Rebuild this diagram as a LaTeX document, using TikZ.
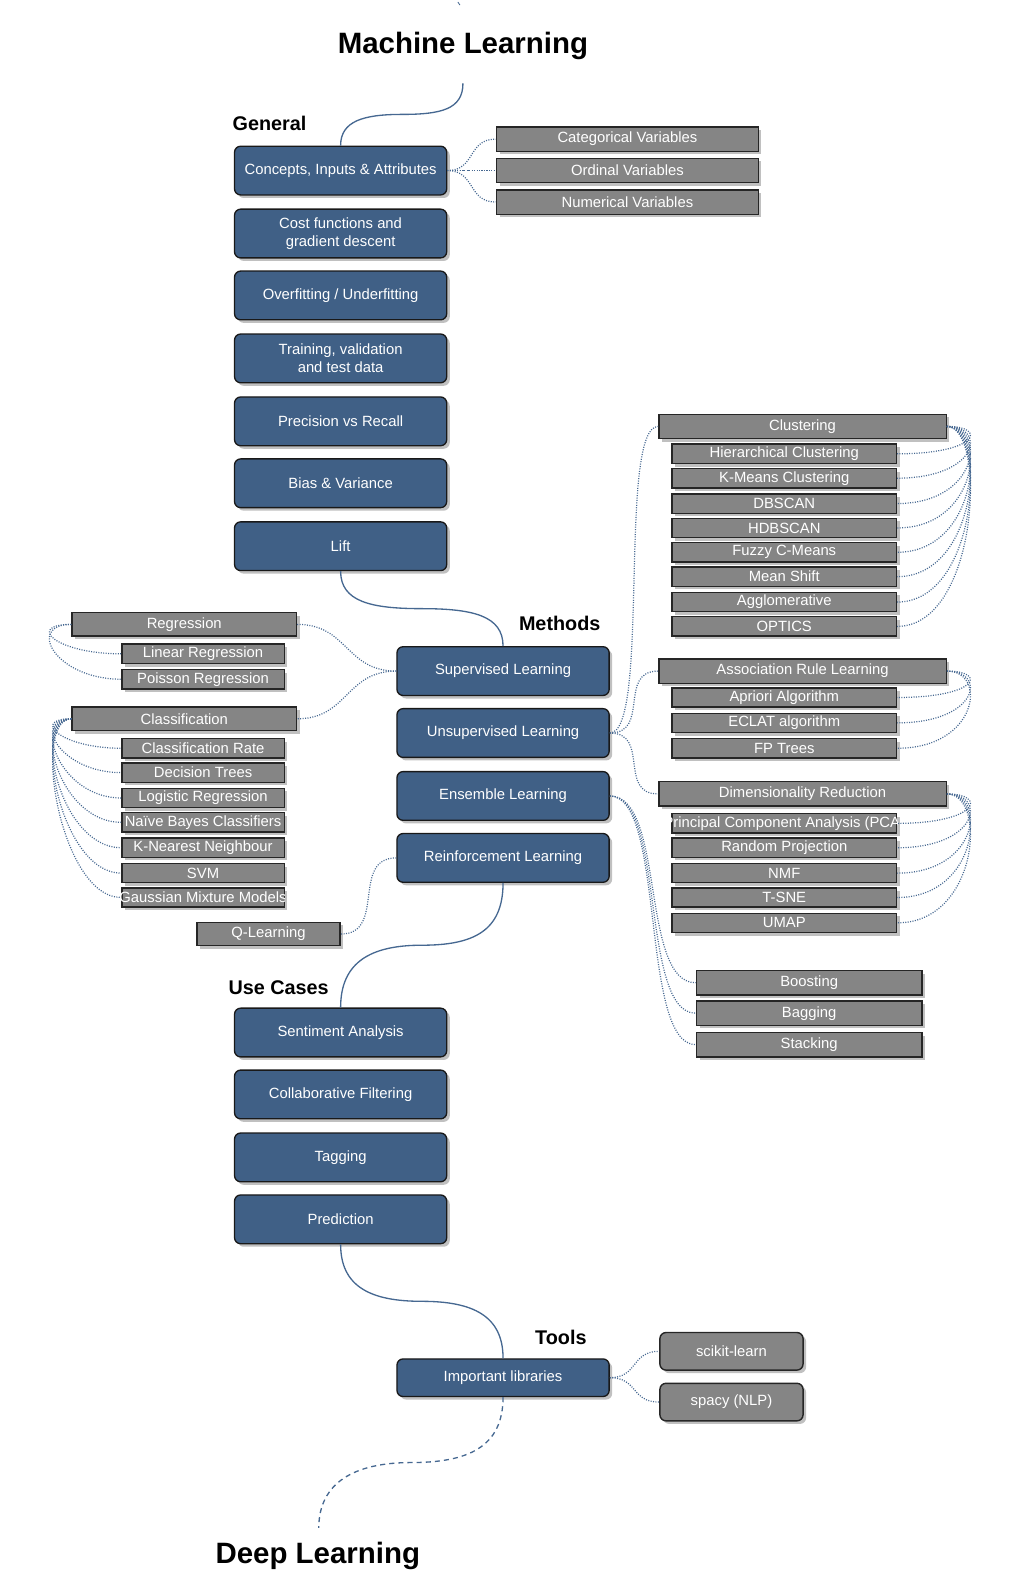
\documentclass[tikz,border=0pt]{standalone}
\usepackage{fontspec}
\setmainfont{Liberation Sans}
\usetikzlibrary{shadows,calc}
\definecolor{mlblue}{RGB}{64,96,134}
\definecolor{mlgray}{RGB}{133,133,133}
\definecolor{mlline}{RGB}{70,104,145}
\definecolor{mlshadow}{RGB}{192,192,192}
\newcommand{\bxf}{\fontsize{14.6}{18}\selectfont}
\newcommand{\hdf}{\fontsize{19.5}{22}\selectfont\bfseries}
\newcommand{\ttf}{\fontsize{29}{32}\selectfont\bfseries}
\tikzset{
  shad/.style={drop shadow={shadow xshift=3pt,shadow yshift=-3pt,fill=mlshadow,opacity=1}},
  bluebox/.style={shad,draw=black!90,line width=1.3pt,fill=mlblue,rounded corners=6pt,
    minimum width=209pt,minimum height=48pt,inner sep=0pt,text=white,font=\bxf,align=center},
  graybox/.style={shad,draw=black!85,line width=1.4pt,fill=mlgray,minimum height=24pt,
    inner sep=0pt,text=white,font=\bxf},
  headbox/.style={graybox,minimum width=283pt},
  varbox/.style={graybox,minimum width=258pt},
  subbox/.style={graybox,minimum width=221pt,minimum height=19pt},
  lhead/.style={graybox,minimum width=221pt,minimum height=23pt},
  lsub/.style={graybox,minimum width=160pt,minimum height=19pt},
  ensbox/.style={graybox,minimum width=222pt},
  libbox/.style={graybox,rounded corners=6pt,minimum width=141pt,minimum height=37pt},
  solidlink/.style={draw=mlline,line width=1.3pt},
  dotlink/.style={draw=mlline,line width=1.2pt,dash pattern=on 1pt off 1.4pt},
  dashlink/.style={draw=mlline,line width=1.3pt,dash pattern=on 5pt off 4pt},
  heading/.style={font=\hdf,anchor=west,inner sep=0pt},
  bigtitle/.style={font=\ttf,inner sep=0pt},
  cliptext/.style={text=white,font=\bxf,inner sep=0pt},
}
\begin{document}
\begin{tikzpicture}[x=1pt,y=-1pt]
\useasboundingbox (0,0) rectangle (1019.5,1567.1);

% titles and headings
\node[bigtitle] (ml) at (456,45) {Machine Learning};
\node[bigtitle] (dl) at (313,1533) {Deep Learning};
\node[heading] (hgen) at (229,122) {General};
\node[heading] (hmeth) at (511,614) {Methods};
\node[heading] (huse) at (225,973) {Use Cases};
\node[heading] (htools) at (527,1317) {Tools};
\coordinate (mltop) at (456,82);
\coordinate (dltop) at (314,1505);
\draw[mlline,line width=0.8pt] (451,2) -- (453,5);

% General
\node[bluebox] (concepts) at (335.5,168) {Concepts, Inputs \& Attributes};
\node[bluebox] (cost) at (335.5,230) {Cost functions and\\gradient descent};
\node[bluebox] (overfit) at (335.5,291) {Overfitting / Underfitting};
\node[bluebox] (training) at (335.5,353) {Training, validation\\and test data};
\node[bluebox] (precision) at (335.5,415) {Precision vs Recall};
\node[bluebox] (bias) at (335.5,476) {Bias \& Variance};
\node[bluebox] (lift) at (335.5,538) {Lift};

\node[varbox] (cat) at (618,137) {Categorical Variables};
\node[varbox] (ord) at (618,168) {Ordinal Variables};
\node[varbox] (num) at (618,199) {Numerical Variables};

% Methods
\node[bluebox] (sup) at (495.5,661) {Supervised Learning};
\node[bluebox] (unsup) at (495.5,722) {Unsupervised Learning};
\node[bluebox] (ens) at (495.5,784) {Ensemble Learning};
\node[bluebox] (reinf) at (495.5,845) {Reinforcement Learning};

% Supervised children
\node[lhead] (reg) at (181.5,615) {Regression};
\node[lsub] (linreg) at (200,644) {Linear Regression};
\node[lsub] (poisson) at (200,669) {Poisson Regression};
\node[lhead] (cls) at (181.5,708) {Classification};
\node[lsub] (clsrate) at (200,737) {Classification Rate};
\node[lsub] (dtree) at (200,761) {Decision Trees};
\node[lsub] (logreg) at (200,786) {Logistic Regression};
\node[lsub] (nbayes) at (200,810) {Naïve Bayes Classifiers};
\node[lsub] (knn) at (200,835) {K-Nearest Neighbour};
\node[lsub] (svm) at (200,860) {SVM};
\node[lsub] (gmm) at (200,884) {};
\begin{scope}
  \clip (gmm.south west) rectangle (gmm.north east);
  \node[cliptext] at (gmm.center) {Gaussian Mixture Models};
\end{scope}
\node[graybox,minimum width=141pt,minimum height=23pt] (qlearn) at (264.5,920) {Q-Learning};

% Unsupervised children
\node[headbox] (clust) at (790.5,420) {Clustering};
\node[subbox] (hier) at (772.5,447) {Hierarchical Clustering};
\node[subbox] (kmeans) at (772.5,471) {K-Means Clustering};
\node[subbox] (dbscan) at (772.5,496) {DBSCAN};
\node[subbox] (hdbscan) at (772.5,520) {HDBSCAN};
\node[subbox] (fuzzy) at (772.5,544) {Fuzzy C-Means};
\node[subbox] (mshift) at (772.5,568) {Mean Shift};
\node[subbox] (agglo) at (772.5,593) {Agglomerative};
\node[subbox] (optics) at (772.5,617) {OPTICS};

\node[headbox] (assoc) at (790.5,661) {Association Rule Learning};
\node[subbox] (apriori) at (772.5,687) {Apriori Algorithm};
\node[subbox] (eclat) at (772.5,712) {ECLAT algorithm};
\node[subbox] (fptrees) at (772.5,737) {FP Trees};

\node[headbox] (dimred) at (790.5,782) {Dimensionality Reduction};
\node[subbox] (pca) at (772.5,811) {};
\begin{scope}
  \clip (pca.south west) rectangle (pca.north east);
  \node[cliptext] at (pca.center) {Principal Component Analysis (PCA)};
\end{scope}
\node[subbox] (randproj) at (772.5,835) {Random Projection};
\node[subbox] (nmf) at (772.5,860) {NMF};
\node[subbox] (tsne) at (772.5,884) {T-SNE};
\node[subbox] (umap) at (772.5,909) {UMAP};

% Ensemble children
\node[ensbox] (boost) at (797,968) {Boosting};
\node[ensbox] (bag) at (797,998) {Bagging};
\node[ensbox] (stack) at (797,1029) {Stacking};

% Use cases
\node[bluebox] (senti) at (335.5,1017) {Sentiment Analysis};
\node[bluebox] (collab) at (335.5,1078) {Collaborative Filtering};
\node[bluebox] (tagging) at (335.5,1140) {Tagging};
\node[bluebox] (predict) at (335.5,1201) {Prediction};

% Tools
\node[bluebox,minimum height=37pt] (libs) at (495.5,1357) {Important libraries};
\node[libbox] (sklearn) at (720.5,1331) {scikit-learn};
\node[libbox] (spacy) at (720.5,1381) {spacy (NLP)};

% main spine (S-curves with a flat middle)
\coordinate (m0) at ($(mltop)!0.5!(concepts.north)$);
\coordinate (m1) at ($(lift.south)!0.5!(sup.north)$);
\coordinate (m2) at ($(reinf.south)!0.5!(senti.north)$);
\coordinate (m3) at ($(predict.south)!0.5!(libs.north)$);
\coordinate (m4) at ($(libs.south)!0.5!(dltop)$);
\draw[solidlink] (mltop) .. controls +(0,26) and +(38,0) .. (m0)
  .. controls +(-38,0) and +(0,-24) .. (concepts.north);
\draw[solidlink] (lift.south) .. controls +(0,30) and +(-50,0) .. (m1)
  .. controls +(50,0) and +(0,-30) .. (sup.north);
\draw[solidlink] (reinf.south) .. controls +(0,48) and +(50,0) .. (m2)
  .. controls +(-50,0) and +(0,-45) .. (senti.north);
\draw[solidlink] (predict.south) .. controls +(0,42) and +(-50,0) .. (m3)
  .. controls +(50,0) and +(0,-42) .. (libs.north);
\draw[dashlink] (libs.south) .. controls +(0,50) and +(55,0) .. (m4)
  .. controls +(-55,0) and +(0,-45) .. (dltop);

% dotted links
\foreach \t in {cat,ord,num}
  \draw[dotlink] (concepts.east) .. controls +(28,0) and +(-28,0) .. (\t.west);
\foreach \t in {reg,cls}
  \draw[dotlink] (sup.west) .. controls +(-50,0) and +(50,0) .. (\t.east);
\foreach \t in {linreg,poisson}
  \draw[dotlink] (reg.west) .. controls +(-45,0) and +(-65,0) .. (\t.west);
\foreach \t in {clsrate,dtree,logreg,nbayes,knn,svm,gmm}
  \draw[dotlink] (cls.west) .. controls +(-40,0) and +(-60,0) .. (\t.west);
\draw[dotlink] (reinf.west) .. controls +(-45,0) and +(45,0) .. (qlearn.east);
\foreach \t in {clust,assoc,dimred}
  \draw[dotlink] (unsup.east) .. controls +(40,0) and +(-40,0) .. (\t.west);
\foreach \t in {hier,kmeans,dbscan,hdbscan,fuzzy,mshift,agglo,optics}
  \draw[dotlink] (clust.east) .. controls +(40,0) and +(80,0) .. (\t.east);
\foreach \t in {apriori,eclat,fptrees}
  \draw[dotlink] (assoc.east) .. controls +(40,0) and +(80,0) .. (\t.east);
\foreach \t in {pca,randproj,nmf,tsne,umap}
  \draw[dotlink] (dimred.east) .. controls +(40,0) and +(80,0) .. (\t.east);
\foreach \t in {boost,bag,stack}
  \draw[dotlink] (ens.east) .. controls +(55,0) and +(-55,0) .. (\t.west);
\foreach \t in {sklearn,spacy}
  \draw[dotlink] (libs.east) .. controls +(28,0) and +(-28,0) .. (\t.west);
\end{tikzpicture}
\end{document}
